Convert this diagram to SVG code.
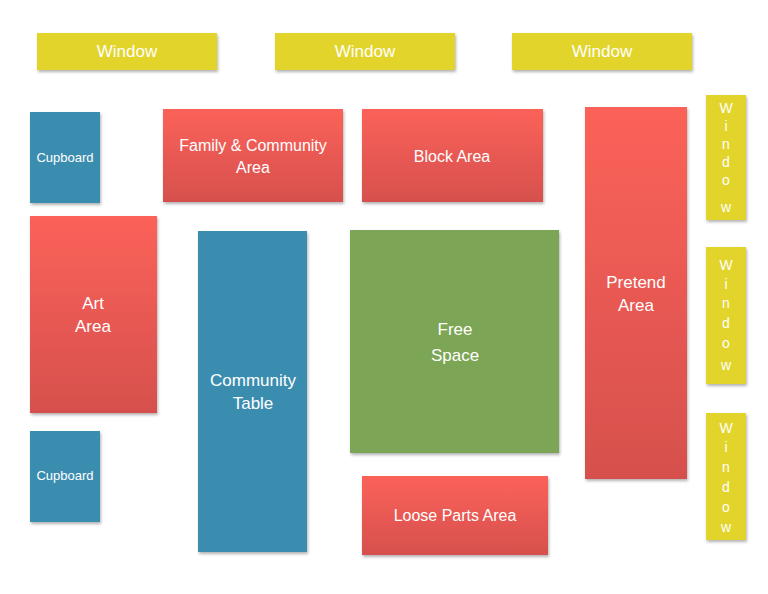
<svg xmlns="http://www.w3.org/2000/svg" width="768" height="594" viewBox="0 0 768 594">
<defs>
<linearGradient id="red" x1="0" y1="0" x2="0" y2="1"><stop offset="0" stop-color="#fb6259"/><stop offset="1" stop-color="#d6504d"/></linearGradient>
<filter id="sh" x="-10%" y="-10%" width="130%" height="130%"><feDropShadow dx="1" dy="2" stdDeviation="1.5" flood-opacity="0.3"/></filter>
</defs>
<style>
.win{fill:#e2d42c;filter:url(#sh)}
.red{fill:url(#red);filter:url(#sh)}
.blue{fill:#3b8db0;filter:url(#sh)}
.green{fill:#7ba654;filter:url(#sh)}
text{font-family:"Liberation Sans",Arial,sans-serif;fill:#fff;text-anchor:middle}
.t{font-size:17px}
.s{font-size:16px}
.c{font-size:13px}
.v{font-size:14px}
</style>
<rect width="768" height="594" fill="#fff"/>
<g id="window-top-1"><rect class="win" x="37" y="33" width="180" height="37"/><text class="t" x="127" y="57">Window</text></g>
<g id="window-top-2"><rect class="win" x="275" y="33" width="180" height="37"/><text class="t" x="365" y="57">Window</text></g>
<g id="window-top-3"><rect class="win" x="512" y="33" width="180" height="37"/><text class="t" x="602" y="57">Window</text></g>
<g id="cupboard-1"><rect class="blue" x="30" y="112" width="70" height="91"/><text class="c" x="65" y="162">Cupboard</text></g>
<g id="family"><rect class="red" x="163" y="109" width="180" height="93"/><text class="s" x="253" y="151">Family &amp; Community</text><text class="s" x="253" y="173">Area</text></g>
<g id="block"><rect class="red" x="362" y="109" width="181" height="93"/><text class="s" x="452" y="162">Block Area</text></g>
<g id="pretend"><rect class="red" x="585" y="107" width="102" height="372"/><text class="t" x="636" y="288">Pretend</text><text class="t" x="636" y="311">Area</text></g>
<g id="window-side-1"><rect class="win" x="706" y="95" width="40" height="125"/><text class="v" x="726" y="113">W</text><text class="v" x="726" y="131">i</text><text class="v" x="726" y="149">n</text><text class="v" x="726" y="167">d</text><text class="v" x="726" y="185">o</text><text class="v" x="726" y="212">w</text></g>
<g id="window-side-2"><rect class="win" x="706" y="247" width="40" height="137"/><text class="v" x="726" y="270">W</text><text class="v" x="726" y="289">i</text><text class="v" x="726" y="308">n</text><text class="v" x="726" y="328">d</text><text class="v" x="726" y="348">o</text><text class="v" x="726" y="370">w</text></g>
<g id="window-side-3"><rect class="win" x="706" y="413" width="40" height="127"/><text class="v" x="726" y="433">W</text><text class="v" x="726" y="452">i</text><text class="v" x="726" y="472">n</text><text class="v" x="726" y="492">d</text><text class="v" x="726" y="512">o</text><text class="v" x="726" y="532">w</text></g>
<g id="art"><rect class="red" x="30" y="216" width="127" height="197"/><text class="t" x="93" y="309">Art</text><text class="t" x="93" y="332">Area</text></g>
<g id="community-table"><rect class="blue" x="198" y="231" width="109" height="321"/><text class="t" x="253" y="386">Community</text><text class="t" x="253" y="409">Table</text></g>
<g id="free-space"><rect class="green" x="350" y="230" width="209" height="223"/><text class="t" x="455" y="335">Free</text><text class="t" x="455" y="361">Space</text></g>
<g id="cupboard-2"><rect class="blue" x="30" y="431" width="70" height="91"/><text class="c" x="65" y="480">Cupboard</text></g>
<g id="loose-parts"><rect class="red" x="362" y="476" width="186" height="79"/><text class="s" x="455" y="521">Loose Parts Area</text></g>
<g id="connectors"/>
</svg>
